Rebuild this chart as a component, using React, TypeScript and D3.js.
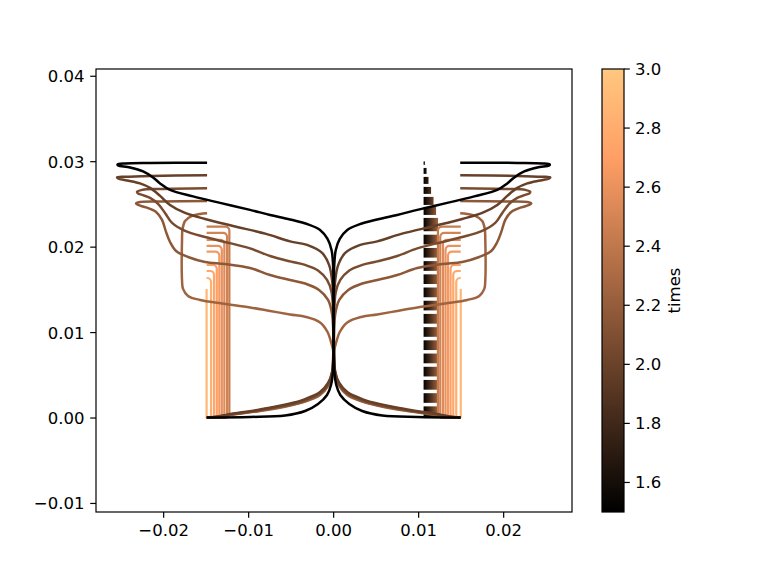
import React from "react";
import * as d3 from "d3";

// ---------- data ----------
const xDomain = [-0.02796, 0.02804];
const yDomain = [-0.011, 0.04085];
const xTicks = [-0.02, -0.01, 0, 0.01, 0.02];
const yTicks = [-0.01, 0, 0.01, 0.02, 0.03, 0.04];
const timeRange = [1.5, 3.0];
const cbTicks = [1.6, 1.8, 2.0, 2.2, 2.4, 2.6, 2.8, 3.0];
const cbLabel = "times";

// swooping trajectories (left half; right half is the mirror image)
const swoopTimes = [1.5, 1.98, 2.07, 2.16, 2.25];
const swoop0 = [
  [-0.01493, 0.00006], [-0.00984, 0.00012], [-0.00572, 0.00029], [-0.00336, 0.00082],
  [-0.00184, 0.00164], [-0.00078, 0.00269], [-0.00031, 0.00386], [-0.00007, 0.00562],
  [-0.00002, 0.0103], [-0.00002, 0.01499], [-0.00007, 0.01792], [-0.00025, 0.01967],
  [-0.00072, 0.02096], [-0.0016, 0.02201], [-0.00301, 0.02266], [-0.00513, 0.02324],
  [-0.00748, 0.02377], [-0.00984, 0.02436], [-0.01336, 0.02518], [-0.01654, 0.02594],
  [-0.01925, 0.0267], [-0.02042, 0.02746], [-0.02125, 0.02816], [-0.02242, 0.02886],
  [-0.02395, 0.02933], [-0.02536, 0.02957], [-0.02542, 0.02968], [-0.02454, 0.0298],
  [-0.0216, 0.02986], [-0.01489, 0.02989],
];
const swoop1 = [
  [-0.01493, 0.00006], [-0.0136, 0.00018], [-0.01242, 0.00041], [-0.00866, 0.001],
  [-0.00536, 0.00164], [-0.00336, 0.00222], [-0.0016, 0.00304], [-0.00066, 0.0041],
  [-0.00019, 0.00539], [-0.00004, 0.00796], [-0.00004, 0.01382], [-0.00019, 0.01616],
  [-0.00054, 0.01792], [-0.00136, 0.01932], [-0.00313, 0.02026], [-0.00513, 0.02067],
  [-0.00795, 0.02155], [-0.01184, 0.02248], [-0.01513, 0.0233], [-0.01748, 0.024],
  [-0.01925, 0.02494], [-0.02042, 0.026], [-0.0216, 0.02693], [-0.02278, 0.02746],
  [-0.02431, 0.02781], [-0.02536, 0.02804], [-0.02548, 0.02816], [-0.02454, 0.02824],
  [-0.0216, 0.02834], [-0.01489, 0.02842],
];
const swoop2 = [
  [-0.01493, 0.00006], [-0.0136, 0.00015], [-0.01242, 0.00037], [-0.00866, 0.00094],
  [-0.00536, 0.00155], [-0.00336, 0.00211], [-0.0016, 0.00293], [-0.00066, 0.00398],
  [-0.00019, 0.00527], [-0.00004, 0.00738], [-0.00004, 0.01148], [-0.00025, 0.01475],
  [-0.00078, 0.01616], [-0.00184, 0.01727], [-0.00336, 0.01792], [-0.00513, 0.01833],
  [-0.00748, 0.01897], [-0.00984, 0.01985], [-0.01278, 0.02061], [-0.01513, 0.02119],
  [-0.01748, 0.0219], [-0.01901, 0.02283], [-0.01984, 0.024], [-0.02066, 0.02506],
  [-0.0216, 0.02576], [-0.02254, 0.02611], [-0.02301, 0.02629], [-0.02313, 0.02646],
  [-0.02254, 0.0267], [-0.02042, 0.02681], [-0.01489, 0.0269],
];
const swoop3 = [
  [-0.01493, 0.00006], [-0.0136, 0.00014], [-0.01242, 0.00035], [-0.00866, 0.00088],
  [-0.00536, 0.00146], [-0.00336, 0.00199], [-0.0016, 0.00281], [-0.00066, 0.00386],
  [-0.00019, 0.00515], [-0.00004, 0.00703], [-0.00004, 0.00972], [-0.00019, 0.01218],
  [-0.00066, 0.01382], [-0.00172, 0.01499], [-0.00336, 0.01575], [-0.00513, 0.01616],
  [-0.00748, 0.01674], [-0.00984, 0.01756], [-0.01278, 0.01803], [-0.01513, 0.01827],
  [-0.01713, 0.01885], [-0.01854, 0.01955], [-0.01925, 0.0206], [-0.01972, 0.02178],
  [-0.02019, 0.02319], [-0.02089, 0.02412], [-0.02207, 0.02465], [-0.02301, 0.02494],
  [-0.02325, 0.02512], [-0.02278, 0.02529], [-0.02042, 0.02535], [-0.01489, 0.02541],
];
const swoop4 = [
  [-0.01493, 0.00006], [-0.0136, 0.00012], [-0.01242, 0.00033], [-0.00866, 0.00082],
  [-0.00536, 0.00141], [-0.00336, 0.00193], [-0.0016, 0.00269], [-0.00066, 0.00375],
  [-0.00019, 0.00492], [-0.00004, 0.00656], [-0.00007, 0.00796], [-0.00025, 0.00867],
  [-0.00072, 0.01007], [-0.0016, 0.01119], [-0.00325, 0.01183], [-0.00513, 0.01212],
  [-0.00748, 0.01253], [-0.00984, 0.01294], [-0.01313, 0.01341], [-0.01572, 0.01382],
  [-0.01713, 0.01429], [-0.01772, 0.01511], [-0.01784, 0.01616], [-0.01784, 0.02084],
  [-0.01778, 0.02213], [-0.01748, 0.02307], [-0.01666, 0.02365], [-0.01572, 0.02389],
  [-0.01489, 0.02397],
];
const swoops = [swoop0, swoop1, swoop2, swoop3, swoop4];

// short trajectories: start x, turning x, final y (left half)
const shortStartX = -0.01495;
const shortTurnX = [-0.01227, -0.01254, -0.01286, -0.01316, -0.01345, -0.01375, -0.01407, -0.01442, -0.01495];
const shortEndY = [0.0224, 0.02166, 0.02084, 0.02014, 0.01947, 0.01792, 0.01721, 0.01639, 0.01511];
const shortTimes = [2.43, 2.49, 2.55, 2.6, 2.65, 2.7, 2.76, 2.82, 2.88];

// staircase block on the right: [y0, y1, xRight]
const stairLeft = 0.01058;
const stairBars = [
  [0.02963, 0.03004, 0.01073],
  [0.02857, 0.02927, 0.01093],
  [0.0274, 0.02822, 0.01116],
  [0.02623, 0.02705, 0.01146],
  [0.02494, 0.02588, 0.01175],
  [0.02377, 0.02471, 0.01205],
  [0.0, 0.02342, 0.01228],
];
const stairGaps = [0.00157, 0.00311, 0.00466, 0.0062, 0.00775, 0.0093, 0.01084, 0.01239, 0.01393, 0.01548, 0.01702, 0.01857, 0.02011, 0.02166];
const stairColorTimes = [1.5, 2.25];

// ---------- layout ----------
const W = 768, H = 575;
const AX = { left: 96, right: 572, top: 69, bottom: 512 };
const CB = { left: 602, right: 624 };
const FONT = "'DejaVu Sans', sans-serif";
const FS = 16.5;
const TICK = 5.8;

function copper(c: number) {
  const v = Math.max(0, Math.min(1, c));
  return d3.rgb(255 * Math.min(1, 1.25 * v), 255 * 0.7812 * v, 255 * 0.4975 * v).formatHex();
}

export default function App() {
  const x = d3.scaleLinear().domain(xDomain).range([AX.left, AX.right]);
  const y = d3.scaleLinear().domain(yDomain).range([AX.bottom, AX.top]);
  const norm = d3.scaleLinear().domain(timeRange).range([0, 1]);
  const cbY = d3.scaleLinear().domain(timeRange).range([AX.bottom, AX.top]);
  const colorOf = (t: number) => copper(norm(t));

  const line = d3
    .line<number[]>()
    .x((d) => x(d[0]))
    .y((d) => y(d[1]))
    .curve(d3.curveCatmullRom.alpha(0.5));

  const shortPath = (tx: number, ey: number, s: number) => {
    const p = d3.path();
    const x0 = x(s * shortStartX), xv = x(s * tx);
    const y0 = y(0), y1 = y(ey);
    const r = Math.min(4, Math.abs(xv - x0));
    p.moveTo(x0, y0);
    if (r < 0.5) {
      p.lineTo(xv, y0);
      p.lineTo(xv, y1);
    } else {
      p.arcTo(xv, y0, xv, y1, r);
      p.arcTo(xv, y1, x0, y1, r);
    }
    p.lineTo(x0, y1);
    return p.toString();
  };

  const fmtAx = d3.format(".2f");
  const fmtCb = d3.format(".1f");

  const shortOrder = d3.range(shortTurnX.length).reverse();
  const swoopOrder = d3.range(swoops.length).reverse();
  const cStops = [0, 0.8, 1];
  const stairRight = stairBars[stairBars.length - 1][2];

  return (
    <div style={{ position: "absolute", left: 0, top: 0 }}>
      <svg width={W} height={H} style={{ display: "block", background: "#fff" }}>
        <defs>
          <linearGradient id="cbGrad" x1="0" y1="1" x2="0" y2="0">
            {cStops.map((c) => (
              <stop key={c} offset={c} stopColor={copper(c)} />
            ))}
          </linearGradient>
          <linearGradient
            id="stairGrad"
            gradientUnits="userSpaceOnUse"
            x1={x(stairLeft)}
            y1={0}
            x2={x(stairRight)}
            y2={0}
          >
            <stop offset={0} stopColor={colorOf(stairColorTimes[0])} />
            <stop offset={1} stopColor={colorOf(stairColorTimes[1])} />
          </linearGradient>
        </defs>

        {/* staircase */}
        <g>
          {stairBars.map((b, i) => (
            <rect
              key={i}
              x={x(stairLeft)}
              y={y(b[1])}
              width={x(b[2]) - x(stairLeft)}
              height={y(b[0]) - y(b[1])}
              fill="url(#stairGrad)"
            />
          ))}
          {stairGaps.map((g, i) => (
            <line
              key={i}
              x1={x(stairLeft) - 1}
              x2={x(stairRight) + 0.5}
              y1={y(g)}
              y2={y(g)}
              stroke="#fff"
              strokeWidth={3.5}
            />
          ))}
        </g>

        {/* short trajectories */}
        <g fill="none" strokeWidth={2.2}>
          {shortOrder.map((i) =>
            [-1, 1].map((s) => (
              <path
                key={`s${i}${s}`}
                d={shortPath(shortTurnX[i], shortEndY[i], s)}
                stroke={colorOf(shortTimes[i])}
              />
            ))
          )}
        </g>

        {/* swooping trajectories */}
        <g fill="none" strokeWidth={2.5} strokeLinejoin="round">
          {swoopOrder.map((i) =>
            [1, -1].map((s) => (
              <path
                key={`w${i}${s}`}
                d={line(swoops[i].map((d) => [s * d[0], d[1]])) || ""}
                stroke={colorOf(swoopTimes[i])}
              />
            ))
          )}
        </g>

        {/* axes frame */}
        <rect
          x={AX.left}
          y={AX.top}
          width={AX.right - AX.left}
          height={AX.bottom - AX.top}
          fill="none"
          stroke="#000"
          strokeWidth={1.2}
        />
        <g fontFamily={FONT} fontSize={FS} fill="#000">
          {xTicks.map((t) => (
            <g key={t}>
              <line x1={x(t)} x2={x(t)} y1={AX.bottom} y2={AX.bottom + TICK} stroke="#000" strokeWidth={1.2} />
              <text x={x(t)} y={AX.bottom + 23.5} textAnchor="middle">
                {fmtAx(t)}
              </text>
            </g>
          ))}
          {yTicks.map((t) => (
            <g key={t}>
              <line x1={AX.left - TICK} x2={AX.left} y1={y(t)} y2={y(t)} stroke="#000" strokeWidth={1.2} />
              <text x={AX.left - 2 * TICK} y={y(t)} dy="0.36em" textAnchor="end">
                {fmtAx(t)}
              </text>
            </g>
          ))}
        </g>

        {/* colorbar */}
        <rect
          x={CB.left}
          y={AX.top}
          width={CB.right - CB.left}
          height={AX.bottom - AX.top}
          fill="url(#cbGrad)"
          stroke="#000"
          strokeWidth={1.2}
        />
        <g fontFamily={FONT} fontSize={FS} fill="#000">
          {cbTicks.map((t) => (
            <g key={t}>
              <line x1={CB.right} x2={CB.right + TICK} y1={cbY(t)} y2={cbY(t)} stroke="#000" strokeWidth={1.2} />
              <text x={CB.right + 2 * TICK - 0.5} y={cbY(t)} dy="0.36em" textAnchor="start">
                {fmtCb(t)}
              </text>
            </g>
          ))}
          <text
            transform={`translate(680, ${(AX.top + AX.bottom) / 2}) rotate(-90)`}
            textAnchor="middle"
          >
            {cbLabel}
          </text>
        </g>
      </svg>
    </div>
  );
}
